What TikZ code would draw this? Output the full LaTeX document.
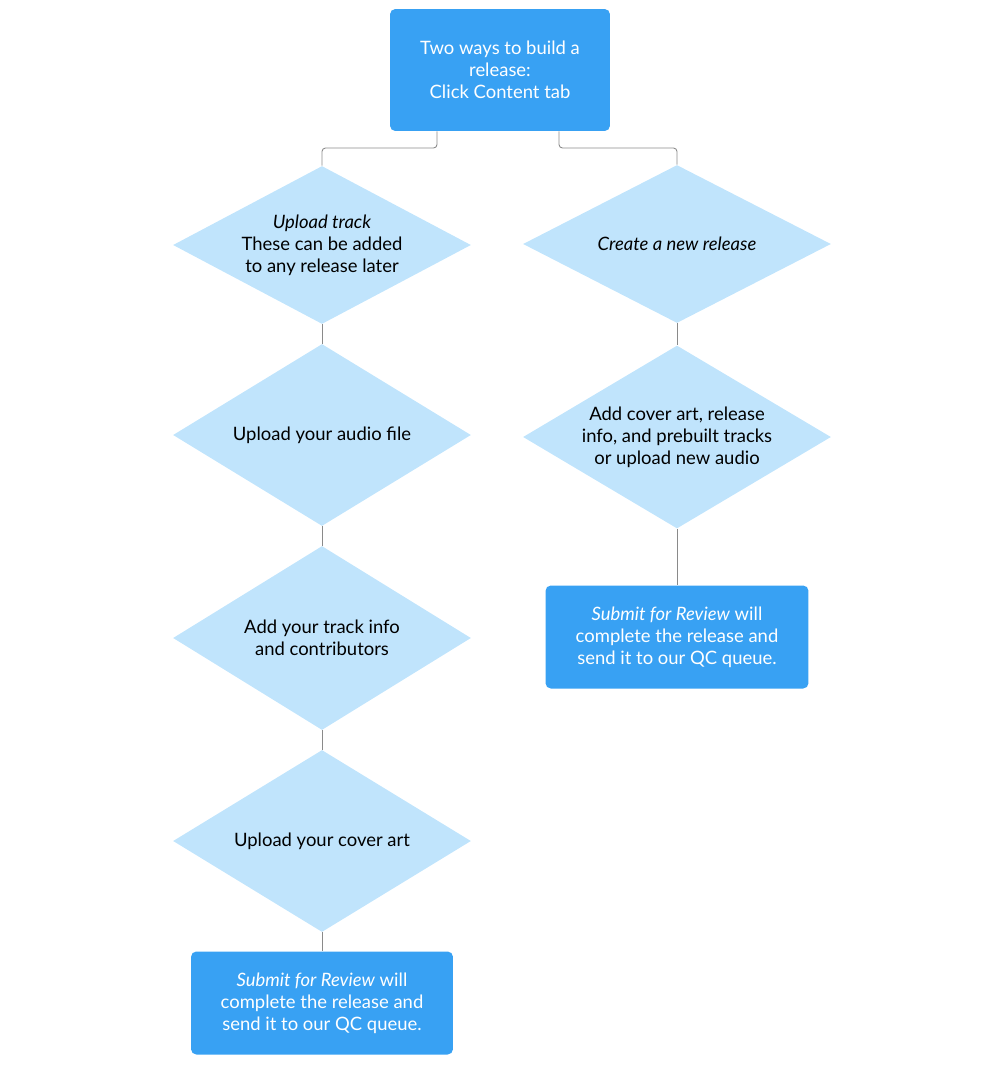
\documentclass[tikz,border=0pt]{standalone}
\usepackage{fontspec}
\setmainfont{Lato}
\usetikzlibrary{shapes.geometric}
\definecolor{boxblue}{HTML}{38A1F3}
\definecolor{dmdblue}{HTML}{C0E4FC}
\definecolor{linegray}{HTML}{8A8A8A}
\tikzset{
  step box/.style={rectangle, rounded corners=3pt, fill=boxblue, text=white,
    align=center, inner sep=0pt, font=\fontsize{10.5}{12.6}\selectfont},
  step dmd/.style={diamond, fill=dmdblue, inner sep=0pt},
  dmd text/.style={align=center, font=\fontsize{10.5}{12.6}\selectfont},
  link/.style={draw=linegray, line width=0.5pt}
}
\newcommand{\stepdiamond}[6]{%
  \node[step dmd, minimum width=#4cm, minimum height=#5cm] (#1) at (#2,#3) {};
  \node[dmd text] at (#1.center) {#6};}
\begin{document}
\begin{tikzpicture}[x=0.02cm, y=-0.02cm]
\useasboundingbox (0,0) rectangle (1000,1073);
% top box
\node[step box, minimum width=4.4cm, minimum height=2.44cm] (start) at (500,70)
  {Two ways to build a\\release:\\Click Content tab};
% left column
\stepdiamond{upload}{322}{245}{5.96}{3.16}{\textit{Upload track}\\These can be added\\to any release later}
\stepdiamond{audio}{322}{435}{5.96}{3.64}{Upload your audio file}
\stepdiamond{info}{322}{638}{5.96}{3.68}{Add your track info\\and contributors}
\stepdiamond{cover}{322}{841}{5.96}{3.64}{Upload your cover art}
\node[step box, minimum width=5.24cm, minimum height=2.06cm] (submitL) at (322,1003)
  {\textit{Submit for Review} will\\complete the release and\\send it to our QC queue.};
% right column
\stepdiamond{create}{677}{244}{6.16}{3.16}{\textit{Create a new release}}
\stepdiamond{build}{677}{437}{6.16}{3.66}{Add cover art, release\\info, and prebuilt tracks\\or upload new audio}
\node[step box, minimum width=5.26cm, minimum height=2.06cm] (submitR) at (677,637)
  {\textit{Submit for Review} will\\complete the release and\\send it to our QC queue.};
% connectors
\coordinate (splitL) at (437,148);
\coordinate (splitR) at (559,148);
\draw[link, rounded corners=2pt] (start.south -| splitL) -- (splitL) -- (splitL -| upload) -- (upload.north);
\draw[link, rounded corners=2pt] (start.south -| splitR) -- (splitR) -- (splitR -| create) -- (create.north);
\draw[link] (upload.south) -- (audio.north);
\draw[link] (audio.south) -- (info.north);
\draw[link] (info.south) -- (cover.north);
\draw[link] (cover.south) -- (submitL.north);
\draw[link] (create.south) -- (build.north);
\draw[link] (build.south) -- (submitR.north);
\end{tikzpicture}
\end{document}
